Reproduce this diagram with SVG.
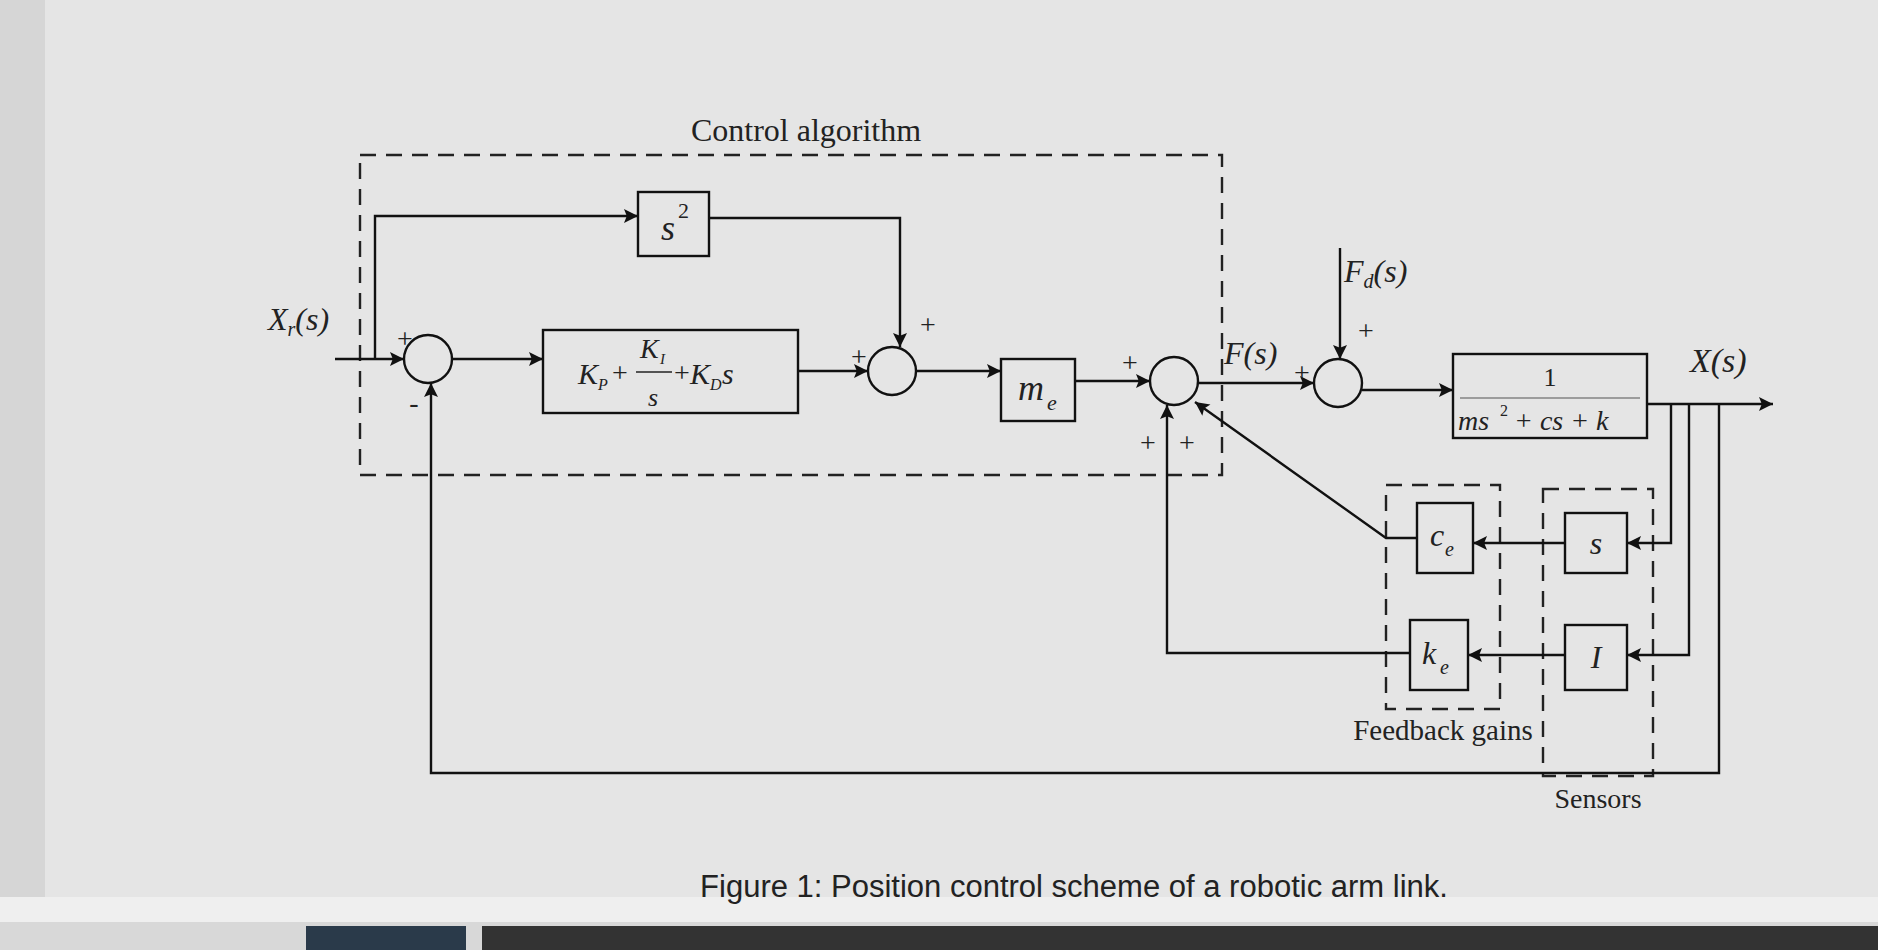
<svg xmlns="http://www.w3.org/2000/svg" width="1878" height="950" viewBox="0 0 1878 950">
<defs>
<marker id="ar" viewBox="0 0 10 10" refX="10" refY="5" markerWidth="16" markerHeight="14" markerUnits="userSpaceOnUse" orient="auto"><path d="M0,0 L10,5 L0,10 L2,5 z" fill="#111"/></marker>
<style>
.w{stroke:#111;stroke-width:2.4;fill:none}
.b{stroke:#111;stroke-width:2.4;fill:none}
.d{stroke:#222;stroke-width:2.4;fill:none;stroke-dasharray:16 10}
.t{font-family:"Liberation Serif",serif;fill:#222}
.i{font-family:"Liberation Serif",serif;font-style:italic;fill:#222}
.s{font-family:"Liberation Serif",serif;fill:#222;font-size:28px}
</style>
</defs>
<rect width="1878" height="950" fill="#e5e5e5"/>
<rect x="0" y="0" width="45" height="950" fill="#d6d6d6"/>
<rect x="0" y="897" width="1878" height="25" fill="#efefef"/>
<rect x="0" y="922" width="1878" height="28" fill="#d8d8d8"/>
<rect x="306" y="926" width="160" height="24" fill="#2a3a4a"/>
<rect x="482" y="926" width="1396" height="24" fill="#333"/>

<g id="control-box"><rect class="d" x="360" y="155" width="862" height="320"/><text class="t" x="806" y="141" font-size="32" text-anchor="middle">Control algorithm</text></g>
<g id="feedback-box"><rect class="d" x="1386" y="485" width="114" height="224"/><text class="t" x="1443" y="740" font-size="29" text-anchor="middle">Feedback gains</text></g>
<g id="sensors-box"><rect class="d" x="1543" y="489" width="110" height="287"/><text class="t" x="1598" y="808" font-size="28" text-anchor="middle">Sensors</text></g>

<g id="connectors">
<path class="w" d="M335,359 H404" marker-end="url(#ar)"/>
<path class="w" d="M375,359 V216 H638" marker-end="url(#ar)"/>
<path class="w" d="M709,218 H900 V347" marker-end="url(#ar)"/>
<path class="w" d="M452,359 H543" marker-end="url(#ar)"/>
<path class="w" d="M798,371 H868" marker-end="url(#ar)"/>
<path class="w" d="M916,371 H1001" marker-end="url(#ar)"/>
<path class="w" d="M1075,381 H1150" marker-end="url(#ar)"/>
<path class="w" d="M1198,383 H1314" marker-end="url(#ar)"/>
<path class="w" d="M1340,248 V359" marker-end="url(#ar)"/>
<path class="w" d="M1362,390 H1453" marker-end="url(#ar)"/>
<path class="w" d="M1647,404 H1773" marker-end="url(#ar)"/>
<path class="w" d="M1671,404 V543 H1627" marker-end="url(#ar)"/>
<path class="w" d="M1689,404 V655 H1627" marker-end="url(#ar)"/>
<path class="w" d="M1719,404 V773 H431 V383" marker-end="url(#ar)"/>
<path class="w" d="M1565,543 H1473" marker-end="url(#ar)"/>
<path class="w" d="M1565,655 H1468" marker-end="url(#ar)"/>
<path class="w" d="M1417,538 H1386 L1195,402" marker-end="url(#ar)"/>
<path class="w" d="M1410,653 H1167 V405" marker-end="url(#ar)"/>
</g>

<g id="sum1"><circle class="b" cx="428" cy="359" r="24"/><text class="s" x="405" y="348" text-anchor="middle">+</text><text class="s" x="414" y="412" text-anchor="middle">-</text></g>
<g id="s2"><rect class="b" x="638" y="192" width="71" height="64"/><text class="i" x="668" y="240" font-size="36" text-anchor="middle">s</text><text class="t" x="678" y="218" font-size="22">2</text></g>
<g id="pid"><rect class="b" x="543" y="330" width="255" height="83"/>
<text class="i" x="578" y="384" font-size="30">K</text><text class="i" x="598" y="390" font-size="16">P</text>
<text class="t" x="612" y="382" font-size="28">+</text>
<text class="i" x="640" y="358" font-size="28">K</text><text class="i" x="660" y="364" font-size="15">I</text>
<line x1="636" y1="372" x2="672" y2="372" stroke="#222" stroke-width="1.3"/>
<text class="i" x="648" y="406" font-size="26">s</text>
<text class="t" x="674" y="382" font-size="28">+</text><text class="i" x="690" y="384" font-size="30">K</text><text class="i" x="710" y="390" font-size="16">D</text><text class="i" x="722" y="384" font-size="30">s</text></g>
<g id="sum2"><circle class="b" cx="892" cy="371" r="24"/><text class="s" x="928" y="334" text-anchor="middle">+</text><text class="s" x="859" y="366" text-anchor="middle">+</text></g>
<g id="me"><rect class="b" x="1001" y="359" width="74" height="62"/><text class="i" x="1018" y="400" font-size="36">m</text><text class="i" x="1047" y="410" font-size="22">e</text></g>
<g id="sum3"><circle class="b" cx="1174" cy="381" r="24"/><text class="s" x="1130" y="372" text-anchor="middle">+</text><text class="s" x="1148" y="452" text-anchor="middle">+</text><text class="s" x="1187" y="452" text-anchor="middle">+</text></g>
<g id="sum4"><circle class="b" cx="1338" cy="383" r="24"/><text class="s" x="1302" y="382" text-anchor="middle">+</text><text class="s" x="1366" y="340" text-anchor="middle">+</text></g>
<text class="i" x="1224" y="364" font-size="32">F(s)</text>
<text class="i" x="1344" y="282" font-size="32">F<tspan font-size="20" dy="6">d</tspan><tspan dy="-6">(s)</tspan></text>
<text class="i" x="268" y="330" font-size="32">X<tspan font-size="20" dy="6">r</tspan><tspan dy="-6">(s)</tspan></text>
<text class="i" x="1690" y="372" font-size="34">X(s)</text>
<g id="plant"><rect class="b" x="1453" y="354" width="194" height="84"/><text class="t" x="1550" y="386" font-size="26" text-anchor="middle">1</text><line x1="1460" y1="398" x2="1640" y2="398" stroke="#555" stroke-width="1.2"/><text class="i" x="1458" y="430" font-size="28">ms</text><text class="t" x="1500" y="416" font-size="16">2</text><text class="i" x="1514" y="430" font-size="28">+ cs + k</text></g>
<g id="ce"><rect class="b" x="1417" y="503" width="56" height="70"/><text class="i" x="1430" y="546" font-size="32">c</text><text class="i" x="1445" y="556" font-size="20">e</text></g>
<g id="ke"><rect class="b" x="1410" y="620" width="58" height="70"/><text class="i" x="1422" y="664" font-size="32">k</text><text class="i" x="1440" y="674" font-size="20">e</text></g>
<g id="sens-s"><rect class="b" x="1565" y="513" width="62" height="60"/><text class="i" x="1596" y="554" font-size="32" text-anchor="middle">s</text></g>
<g id="sens-i"><rect class="b" x="1565" y="625" width="62" height="65"/><text class="i" x="1596" y="668" font-size="32" text-anchor="middle">I</text></g>
<text x="1074" y="897" font-family="Liberation Sans,Arial,sans-serif" font-size="31" fill="#222" text-anchor="middle">Figure 1: Position control scheme of a robotic arm link.</text>
</svg>
